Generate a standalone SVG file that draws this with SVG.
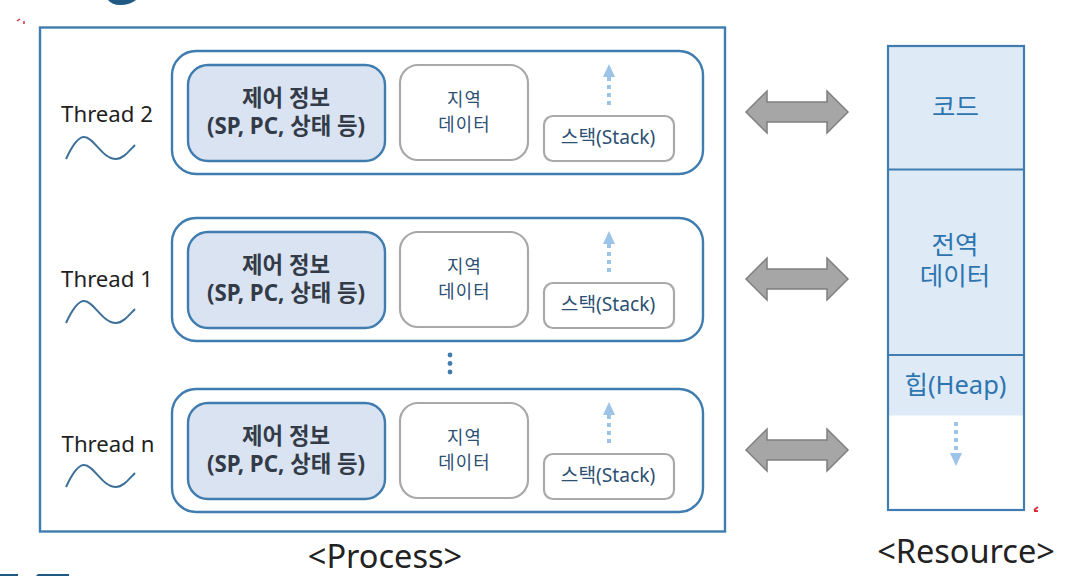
<svg xmlns="http://www.w3.org/2000/svg" width="1090" height="576" viewBox="0 0 1090 576">
<style>
text{font-family:"Noto Sans","Noto Sans CJK KR","Liberation Sans",sans-serif;text-anchor:middle}
.outer{fill:#fff;stroke:#3f7cb0;stroke-width:2.400}
.ctl{fill:#dae3f1;stroke:#3f7cb0;stroke-width:2.400}
.grey{fill:#fff;stroke:#a9a9a9;stroke-width:2.200}
.wave{fill:none;stroke:#3d6f99;stroke-width:2}
.lbl{font-size:22.200px;fill:#1f1f1f}
.bold{font-size:22.300px;font-weight:700;fill:#333b48}
.mid{font-size:17.800px;letter-spacing:1.200px;fill:#2c4f73}
.stk{font-size:19.200px;fill:#2c4f73}
.res{font-size:25.500px;fill:#2e75b0}
.cap{font-size:32.500px;fill:#222}
.dash{fill:none;stroke:#9dc3e6;stroke-width:4;stroke-dasharray:4 4}
.tip{fill:#9dc3e6}
.dbl{fill:#a6a6a6;stroke:#7f7f7f;stroke-width:1.500}
</style>
<defs>
<polygon id="dblarrow" class="dbl" points="746,112 767,91 767,102 827,102 827,91 848,112 827,133 827,122 767,122 767,133"/>
</defs>

<path d="M108 0H136Q130 5 120 5Q112 5 108 0Z" fill="#1f5a85"/>
<path d="M0 576V574H18V576ZM36 576L38 574H69V576Z" fill="#1f5a85"/>
<path d="M17 21l3-2M24 21v3" stroke="#d8313a" stroke-width="1.500" fill="none"/>
<path d="M1034 510l4-3M1034 511h4" stroke="#d8313a" stroke-width="1.800" fill="none"/>

<g id="process">
<rect x="40" y="27.500" width="685" height="504" fill="#fff" stroke="#3f7cb0" stroke-width="2.400"/>
<text class="cap" x="385" y="568">&lt;Process&gt;</text>
</g>

<g id="thread-2">
<text class="lbl" x="107" y="122">Thread 2</text>
<path class="wave" d="M66 159C72 146 78 137 84 137C94 137 102 159 116 159C123 159 129 151 135 145"/>
<rect class="outer" x="172" y="51" width="531" height="123" rx="24"/>
<rect class="ctl" x="188" y="65" width="197" height="96" rx="20"/>
<text class="bold" x="286" y="106">제어 정보</text>
<text class="bold" x="286" y="134">(SP, PC, 상태 등)</text>
<rect class="grey" x="400" y="65" width="128" height="95" rx="18"/>
<text class="mid" x="464.500" y="106">지역</text>
<text class="mid" x="464.500" y="130.500">데이터</text>
<rect class="grey" x="544" y="116" width="130" height="45" rx="9"/>
<text class="stk" x="608" y="144">스택(Stack)</text>
<path class="dash" d="M609 105V77"/>
<polygon class="tip" points="609,64 615,77 603,77"/>
</g>

<g id="thread-1" transform="translate(0 167)">
<text class="lbl" x="107" y="120">Thread 1</text>
<path class="wave" d="M66 156C72 143 78 134 84 134C94 134 102 156 116 156C123 156 129 148 135 142"/>
<rect class="outer" x="172" y="51" width="531" height="123" rx="24"/>
<rect class="ctl" x="188" y="65" width="197" height="96" rx="20"/>
<text class="bold" x="286" y="106">제어 정보</text>
<text class="bold" x="286" y="134">(SP, PC, 상태 등)</text>
<rect class="grey" x="400" y="65" width="128" height="95" rx="18"/>
<text class="mid" x="464.500" y="106">지역</text>
<text class="mid" x="464.500" y="130.500">데이터</text>
<rect class="grey" x="544" y="116" width="130" height="45" rx="9"/>
<text class="stk" x="608" y="144">스택(Stack)</text>
<path class="dash" d="M609 105V77"/>
<polygon class="tip" points="609,64 615,77 603,77"/>
</g>

<g id="thread-n" transform="translate(0 338)">
<text class="lbl" x="108" y="114">Thread n</text>
<path class="wave" d="M66 149C72 136 78 127 84 127C94 127 102 149 116 149C123 149 129 141 135 135"/>
<rect class="outer" x="172" y="51" width="531" height="123" rx="24"/>
<rect class="ctl" x="188" y="65" width="197" height="96" rx="20"/>
<text class="bold" x="286" y="106">제어 정보</text>
<text class="bold" x="286" y="134">(SP, PC, 상태 등)</text>
<rect class="grey" x="400" y="65" width="128" height="95" rx="18"/>
<text class="mid" x="464.500" y="106">지역</text>
<text class="mid" x="464.500" y="130.500">데이터</text>
<rect class="grey" x="544" y="116" width="130" height="45" rx="9"/>
<text class="stk" x="608" y="144">스택(Stack)</text>
<path class="dash" d="M609 105V77"/>
<polygon class="tip" points="609,64 615,77 603,77"/>
</g>

<g id="ellipsis" fill="#3f7cb0">
<circle cx="450" cy="355" r="2.400"/>
<circle cx="450" cy="363.500" r="2.400"/>
<circle cx="450" cy="372" r="2.400"/>
</g>

<g id="resource">
<rect x="888" y="46" width="136" height="369.500" fill="#deebf7"/>
<rect x="888" y="46" width="136" height="464" fill="none" stroke="#3f7cb0" stroke-width="2.200"/>
<path d="M888 169.500H1024M888 355H1024" stroke="#3f7cb0" stroke-width="2" fill="none"/>
<text class="res" x="955.500" y="116">코드</text>
<text class="res" x="955" y="254">전역</text>
<text class="res" x="955" y="285">데이터</text>
<text class="res" x="955.500" y="394">힙(Heap)</text>
<path class="dash" d="M956 422V452"/>
<polygon class="tip" points="956,466 950,453 962,453"/>
<text class="cap" x="966" y="563">&lt;Resource&gt;</text>
</g>

<g id="connectors">
<use href="#dblarrow"/>
<use href="#dblarrow" y="167"/>
<use href="#dblarrow" y="338"/>
</g>
</svg>
